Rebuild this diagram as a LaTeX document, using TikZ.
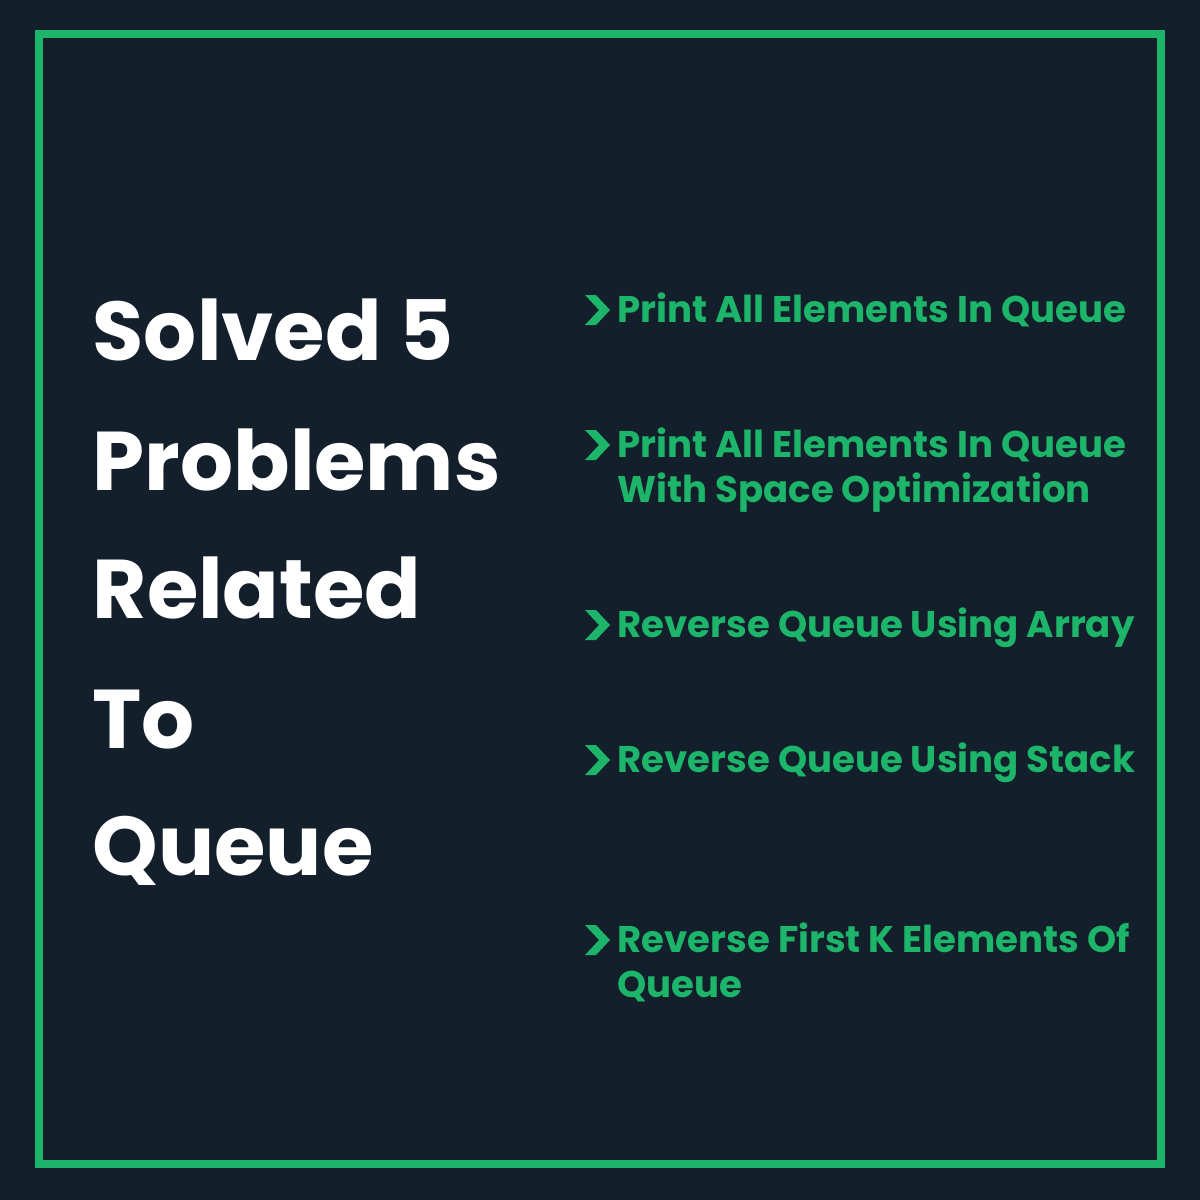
\documentclass[tikz,border=0pt]{standalone}
\usepackage{fontspec}
\setmainfont{Poppins}[UprightFont=* Bold]
\definecolor{bg}{HTML}{131F2B}
\definecolor{gr}{HTML}{1DB56A}
\begin{document}
\begin{tikzpicture}[x=0.01cm,y=-0.01cm,
  big/.style={anchor=base west,text=white,font=\fontsize{23.7}{23.7}\selectfont,inner sep=0},
  item/.style={anchor=base west,text=gr,font=\fontsize{10.55}{12}\selectfont,inner sep=0},
  chev/.style={fill=gr}]
\useasboundingbox[fill=bg] (0,0) rectangle (1200,1200);
\draw[gr,line width=2.3pt] (39,34) rectangle (1161,1164);
\node[big] (t1) at (92,360) {Solved 5};
\node[big] (t2) at (92,490) {Problems};
\node[big] (t3) at (92,618) {Related};
\node[big] (t4) at (92,748) {To};
\node[big] (t5) at (92,875) {Queue};
\foreach \y/\t [count=\i] in {322/{Print All Elements In Queue},457/{Print All Elements In Queue},637/{Reverse Queue Using Array},772/{Reverse Queue Using Stack},952/{Reverse First K Elements Of}}{
  \node[item] (i\i) at (617,\y) {\t};
  \fill[chev] (585,\y-27) -- (596,\y-27) -- (610,\y-12) -- (596,\y+3) -- (585,\y+3) -- (599,\y-12) -- cycle;
}
\node[item] (i2b) at (617,502) {With Space Optimization};
\node[item] (i5b) at (617,997) {Queue};
\end{tikzpicture}
\end{document}
